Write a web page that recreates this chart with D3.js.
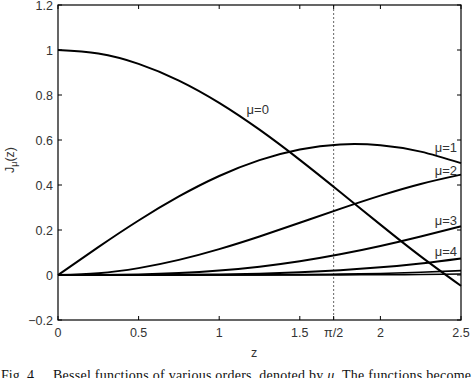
<!DOCTYPE html>
<html>
<head>
<meta charset="utf-8">
<script src="https://cdn.jsdelivr.net/npm/d3@7"></script>
<style>
  body { margin: 0; background: #fff; }
  svg { display: block; }
  .tick-label { font-family: "Liberation Sans", Arial, sans-serif; font-size: 12.5px; fill: #333; }
  .curve-label { font-family: "Liberation Sans", Arial, sans-serif; font-size: 13px; fill: #333; }
  .caption { font-family: "Liberation Serif", "Times New Roman", serif; font-size: 14px; fill: #111; }
</style>
</head>
<body>
<div id="chart"></div>
<script>
// sample points along z
var zValues = [0, 0.25, 0.5, 0.75, 1, 1.25, 1.5, 1.75, 2, 2.25, 2.5];

// J_mu(z)
var j0 = [1, 0.9844, 0.9385, 0.8642, 0.7652, 0.6459, 0.5118, 0.3690, 0.2239, 0.0827, -0.0484];
var j1 = [0, 0.1240, 0.2423, 0.3492, 0.4401, 0.5106, 0.5579, 0.5802, 0.5767, 0.5484, 0.4971];
var j2 = [0, 0.0078, 0.0306, 0.0671, 0.1149, 0.1711, 0.2321, 0.2940, 0.3528, 0.4047, 0.4461];
var j3 = [0, 0.0003, 0.0026, 0.0085, 0.0196, 0.0369, 0.0610, 0.0919, 0.1289, 0.1711, 0.2166];
var j4 = [0, 0.0000, 0.0002, 0.0008, 0.0025, 0.0059, 0.0118, 0.0209, 0.0340, 0.0515, 0.0738];
var j5 = [0, 0, 0.0000, 0.0001, 0.0002, 0.0007, 0.0018, 0.0038, 0.0070, 0.0121, 0.0195];
var j6 = [0, 0, 0, 0, 0.0000, 0.0001, 0.0002, 0.0006, 0.0012, 0.0024, 0.0042];

var seriesList = [j0, j1, j2, j3, j4, j5, j6];

// curve labels: text, z position, value position
var labelText = ["\u03bc=0", "\u03bc=1", "\u03bc=2", "\u03bc=3", "\u03bc=4"];
var labelZ = [1.17, 2.475, 2.475, 2.475, 2.475];
var labelY = [0.716, 0.547, 0.444, 0.222, 0.084];

var xTicks = [0, 0.5, 1, 1.5, 2, 2.5];
var yTicks = [-0.2, 0, 0.2, 0.4, 0.6, 0.8, 1, 1.2];
var markerZ = 1.71;
var markerLabel = "\u03c0/2";

var margin = { top: 5, right: 13, bottom: 58, left: 58 },
    width = 474 - margin.left - margin.right,
    height = 378 - margin.top - margin.bottom;

var svg = d3.select("#chart").append("svg")
    .attr("width", 474)
    .attr("height", 378);

var g = svg.append("g")
    .attr("transform", "translate(" + margin.left + "," + margin.top + ")");

var xScale = d3.scaleLinear().domain([0, 2.5]).range([0, width]);
var yScale = d3.scaleLinear().domain([-0.2, 1.2]).range([height, 0]);

// dotted marker line
g.append("line")
    .attr("x1", xScale(markerZ)).attr("x2", xScale(markerZ))
    .attr("y1", 0).attr("y2", height)
    .style("stroke", "#666")
    .style("stroke-width", 1)
    .style("stroke-dasharray", "2,2");

// curves
var line = d3.line()
    .x(function(d, i) { return xScale(zValues[i]); })
    .y(function(d) { return yScale(d); })
    .curve(d3.curveNatural);

g.selectAll(".curve")
    .data(seriesList)
    .enter().append("path")
    .attr("class", "curve")
    .attr("d", line)
    .style("fill", "none")
    .style("stroke", "#000")
    .style("stroke-width", function(d, i) { return i < 5 ? 2 : 1.6; });

// box
g.append("rect")
    .attr("width", width).attr("height", height)
    .style("fill", "none")
    .style("stroke", "#000")
    .style("stroke-width", 1.2);

// inward ticks on all sides
var tickLen = 4;
xTicks.concat([markerZ]).forEach(function(t) {
    g.append("line").attr("x1", xScale(t)).attr("x2", xScale(t))
        .attr("y1", height).attr("y2", height - tickLen).style("stroke", "#000");
    g.append("line").attr("x1", xScale(t)).attr("x2", xScale(t))
        .attr("y1", 0).attr("y2", tickLen).style("stroke", "#000");
});
yTicks.forEach(function(t) {
    g.append("line").attr("x1", 0).attr("x2", tickLen)
        .attr("y1", yScale(t)).attr("y2", yScale(t)).style("stroke", "#000");
    g.append("line").attr("x1", width).attr("x2", width - tickLen)
        .attr("y1", yScale(t)).attr("y2", yScale(t)).style("stroke", "#000");
});

// tick labels
g.selectAll(".xlab")
    .data(xTicks)
    .enter().append("text")
    .attr("class", "tick-label")
    .attr("x", function(d) { return xScale(d); })
    .attr("y", height + 17)
    .attr("text-anchor", "middle")
    .text(function(d) { return d3.format("~g")(d); });

g.append("text")
    .attr("class", "tick-label")
    .attr("x", xScale(markerZ))
    .attr("y", height + 17)
    .attr("text-anchor", "middle")
    .text(markerLabel);

g.selectAll(".ylab")
    .data(yTicks)
    .enter().append("text")
    .attr("class", "tick-label")
    .attr("x", -5)
    .attr("y", function(d) { return yScale(d) + 4.5; })
    .attr("text-anchor", "end")
    .text(function(d) { return d3.format("~g")(d); });

// curve labels
g.selectAll(".clab")
    .data(labelText)
    .enter().append("text")
    .attr("class", "curve-label")
    .attr("x", function(d, i) { return xScale(labelZ[i]); })
    .attr("y", function(d, i) { return yScale(labelY[i]); })
    .attr("text-anchor", function(d, i) { return i === 0 ? "start" : "end"; })
    .text(function(d) { return d; });

// axis titles
svg.append("text")
    .attr("class", "tick-label")
    .attr("x", 254)
    .attr("y", 357)
    .attr("text-anchor", "middle")
    .text("z");

var ylab = svg.append("text")
    .attr("class", "tick-label")
    .attr("transform", "translate(14,160) rotate(-90)")
    .attr("text-anchor", "middle");
ylab.append("tspan").text("J");
ylab.append("tspan").attr("dy", 3).style("font-size", "9px").text("\u03bc");
ylab.append("tspan").attr("dy", -3).text("(z)");

// caption, cut off by the bottom edge as in the original scan
svg.append("text")
    .attr("class", "caption")
    .attr("x", 1)
    .attr("y", 380)
    .attr("textLength", 33)
    .text("Fig. 4");

var cap = svg.append("text")
    .attr("class", "caption")
    .attr("x", 53)
    .attr("y", 380)
    .attr("textLength", 418)
    .attr("lengthAdjust", "spacing");
cap.append("tspan").text("Bessel functions of various orders, denoted by ");
cap.append("tspan").style("font-style", "italic").text("\u03bc");
cap.append("tspan").text(". The functions become");
</script>
</body>
</html>
